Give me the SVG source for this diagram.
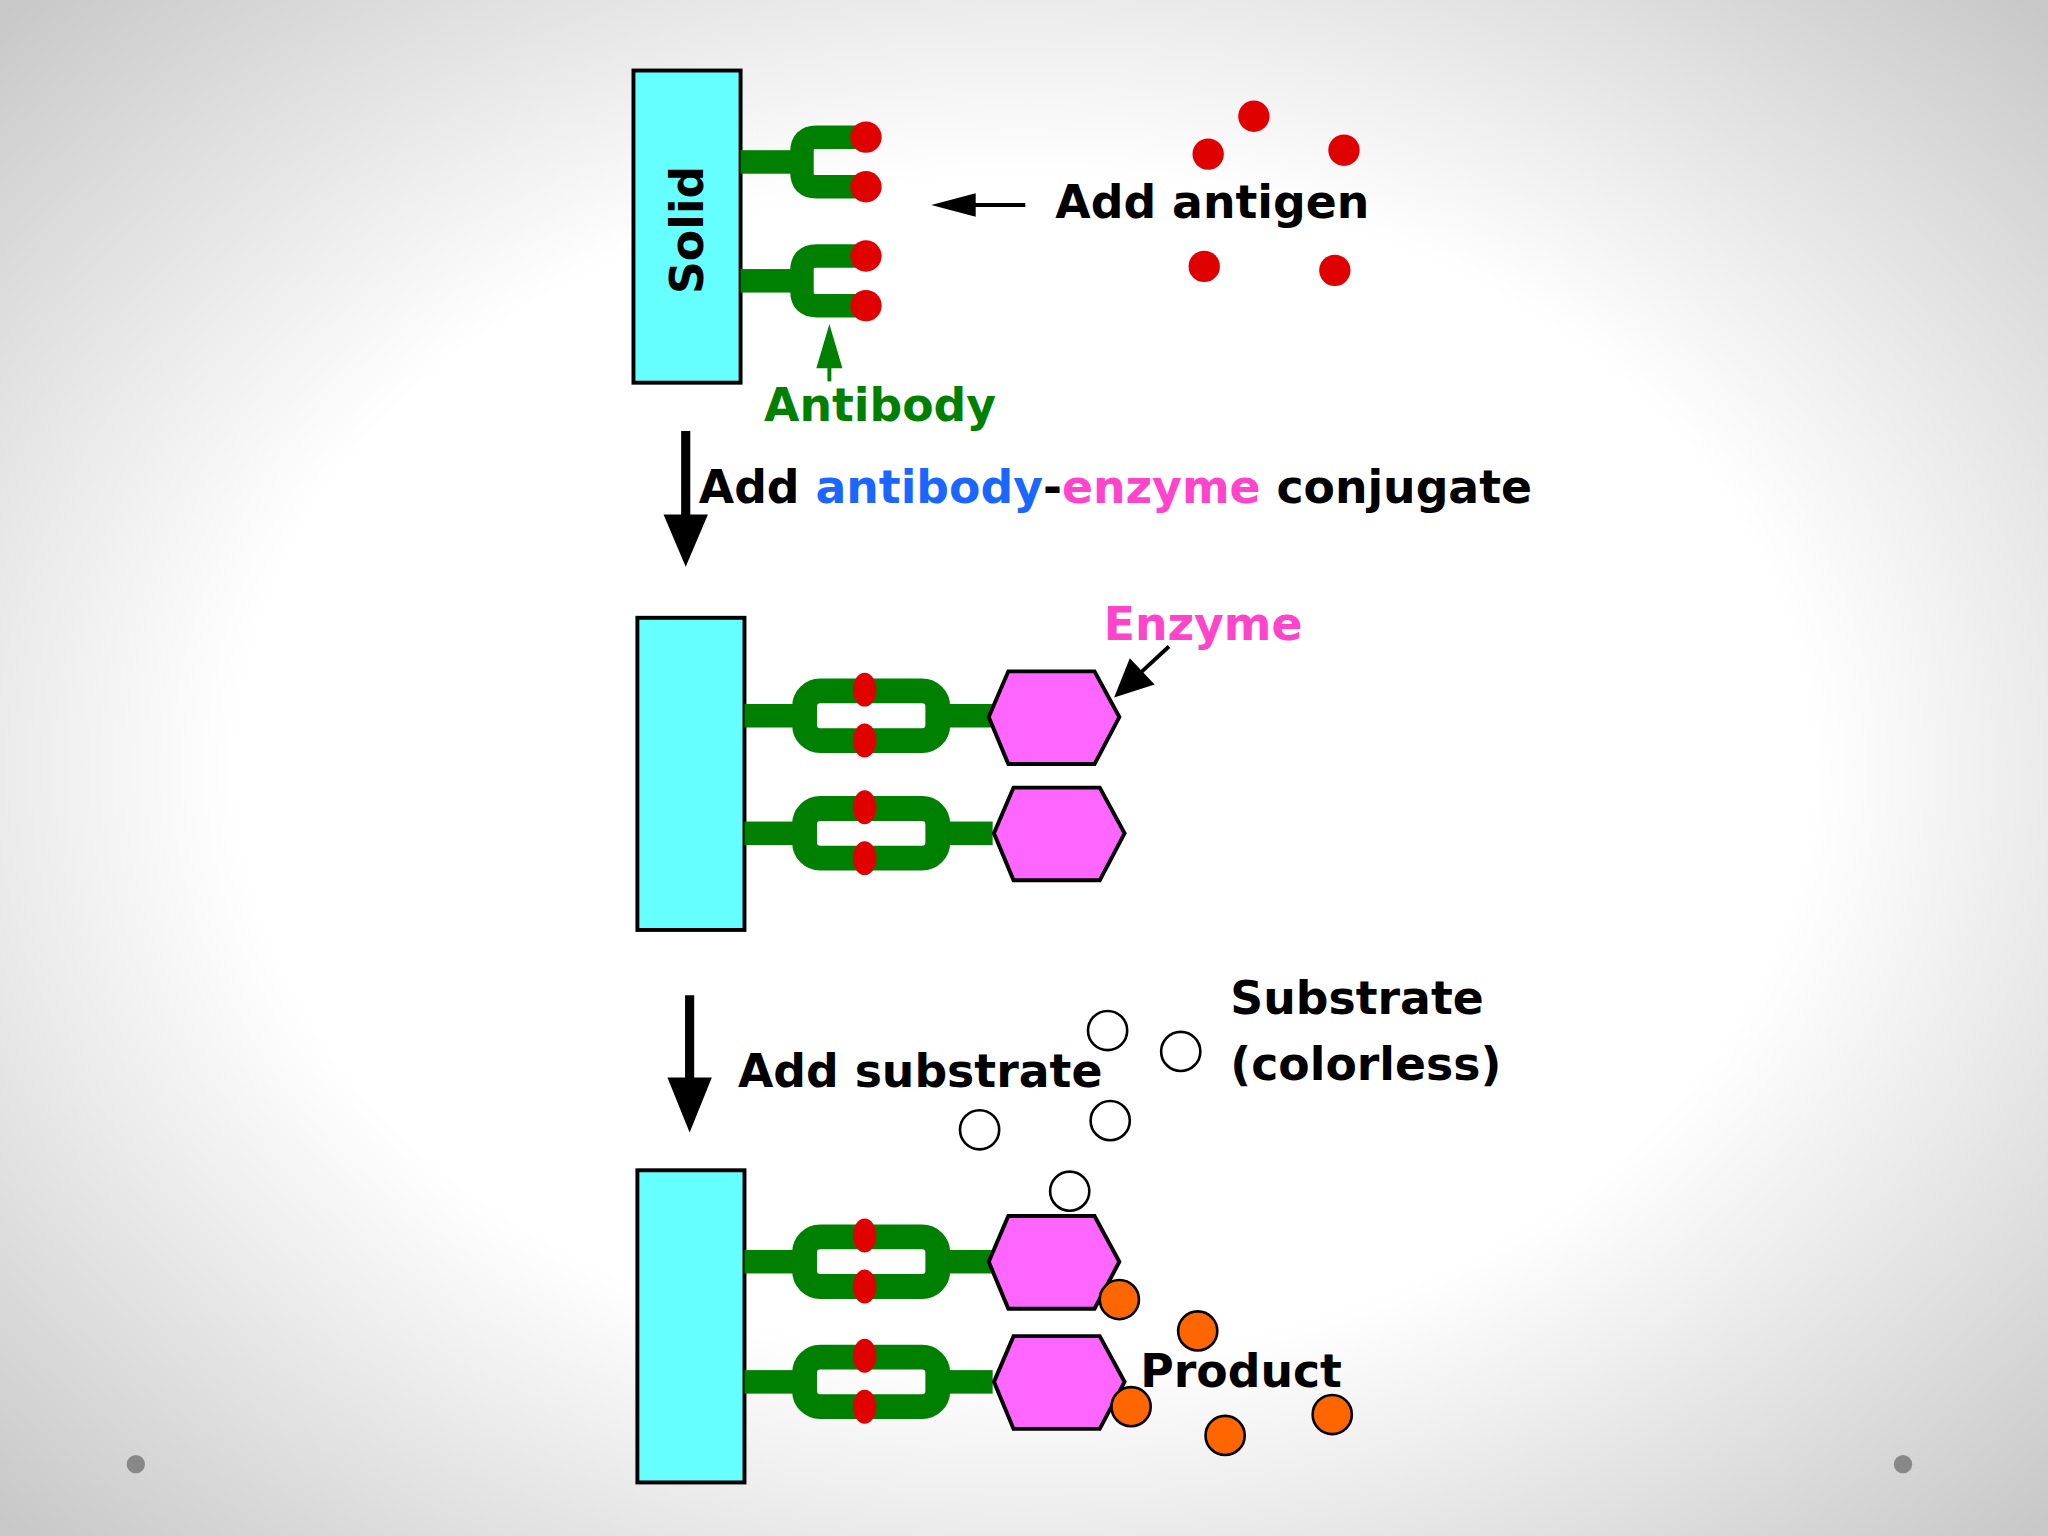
<svg xmlns="http://www.w3.org/2000/svg" width="2048" height="1536" viewBox="0 0 2048 1536">
<defs>
<radialGradient id="bg" cx="50%" cy="50%" r="70%"><stop offset="0.55" stop-color="#ffffff"/><stop offset="1" stop-color="#c8c8c8"/></radialGradient>
<g id="fork"><rect x="0" y="-9" width="47" height="18" fill="#008000"/><path d="M96,-19 H58 Q47,-19 47,-8 V8 Q47,19 58,19 H96" stroke="#008000" stroke-width="18" fill="none"/><circle cx="96" cy="-19" r="12" fill="#e00000"/><circle cx="96" cy="19" r="12" fill="#e00000"/></g>
<g id="complex"><rect x="0" y="-9" width="40" height="18" fill="#008000"/><rect x="46" y="-19" width="102" height="38" rx="12" fill="none" stroke="#008000" stroke-width="19"/><rect x="148" y="-9" width="42" height="18" fill="#008000"/><ellipse cx="92" cy="-20" rx="9" ry="13" fill="#e00000"/><ellipse cx="92" cy="19" rx="9" ry="13" fill="#e00000"/></g>
<polygon id="hex" points="0,0 15,-35 81,-35 100,0 81,36 15,36" fill="#ff66ff" stroke="#000" stroke-width="3"/>
<style>
.t{font-family:"DejaVu Sans",sans-serif;font-weight:bold;font-size:35px;fill:#000}
.box{fill:#66ffff;stroke:#000;stroke-width:3}
.sub{fill:#fff;stroke:#000;stroke-width:2}
.prod{fill:#ff6600;stroke:#000;stroke-width:2}
</style>
</defs>
<rect width="2048" height="1536" fill="url(#bg)"/>
<g transform="scale(1.30612)">
<g id="panel1">
<rect class="box" x="485" y="54" width="82" height="239"/>
<text class="t" transform="translate(538,176) rotate(-90)" text-anchor="middle">Solid</text>
<use href="#fork" x="567" y="124"/>
<use href="#fork" x="567" y="215"/>
</g>
<g id="antigens" fill="#e00000">
<circle cx="960" cy="89" r="12"/><circle cx="925" cy="118" r="12"/><circle cx="1029" cy="115" r="12"/><circle cx="922" cy="204" r="12"/><circle cx="1022" cy="207" r="12"/>
</g>
<g id="panel2">
<rect class="box" x="488" y="473" width="82" height="239"/>
<use href="#complex" x="570" y="548"/>
<use href="#complex" x="570" y="638"/>
<use href="#hex" x="757" y="549"/>
<use href="#hex" x="761" y="638"/>
</g>
<g id="panel3">
<rect class="box" x="488" y="896" width="82" height="239"/>
<use href="#complex" x="570" y="966"/>
<use href="#complex" x="570" y="1058"/>
<use href="#hex" x="757" y="966"/>
<use href="#hex" x="761" y="1058"/>
</g>
<g id="substrate">
<circle class="sub" cx="848" cy="789" r="15"/><circle class="sub" cx="904" cy="805" r="15"/><circle class="sub" cx="750" cy="865" r="15"/><circle class="sub" cx="850" cy="858" r="15"/><circle class="sub" cx="819" cy="912" r="15"/>
</g>
<g id="product">
<circle class="prod" cx="857" cy="995" r="15"/><circle class="prod" cx="917" cy="1019" r="15"/><circle class="prod" cx="866" cy="1077" r="15"/><circle class="prod" cx="938" cy="1099" r="15"/><circle class="prod" cx="1020" cy="1083" r="15"/>
</g>
<g id="connectors">
<line x1="785" y1="157" x2="730" y2="157" stroke="#000" stroke-width="3"/>
<polygon points="713,157 747,148 747,166" fill="#000"/>
<line x1="635" y1="292" x2="635" y2="260" stroke="#008000" stroke-width="3"/>
<polygon points="635,248 625,282 645,282" fill="#008000"/>
<line x1="525" y1="330" x2="525" y2="400" stroke="#000" stroke-width="7"/>
<polygon points="525,434 508,394 542,394" fill="#000"/>
<line x1="895" y1="495" x2="870" y2="518" stroke="#000" stroke-width="3"/>
<polygon points="853,534 865,504 884,524" fill="#000"/>
<line x1="528" y1="762" x2="528" y2="830" stroke="#000" stroke-width="7"/>
<polygon points="528,867 511,825 545,825" fill="#000"/>
</g>
<g id="labels">
<text class="t" x="808" y="167">Add antigen</text>
<text class="t" x="585" y="322" style="fill:#008000">Antibody</text>
<text class="t" x="535" y="385">Add <tspan style="fill:#1a66ff">antibody</tspan>-<tspan style="fill:#ff44cc">enzyme</tspan> conjugate</text>
<text class="t" x="845" y="490" style="fill:#ff44cc">Enzyme</text>
<text class="t" x="565" y="832">Add substrate</text>
<text class="t" x="942" y="776">Substrate</text>
<text class="t" x="942" y="827">(colorless)</text>
<text class="t" x="873" y="1062">Product</text>
</g>
<circle cx="104" cy="1121" r="7" fill="#888"/>
<circle cx="1457" cy="1121" r="7" fill="#888"/>
</g>
</svg>
